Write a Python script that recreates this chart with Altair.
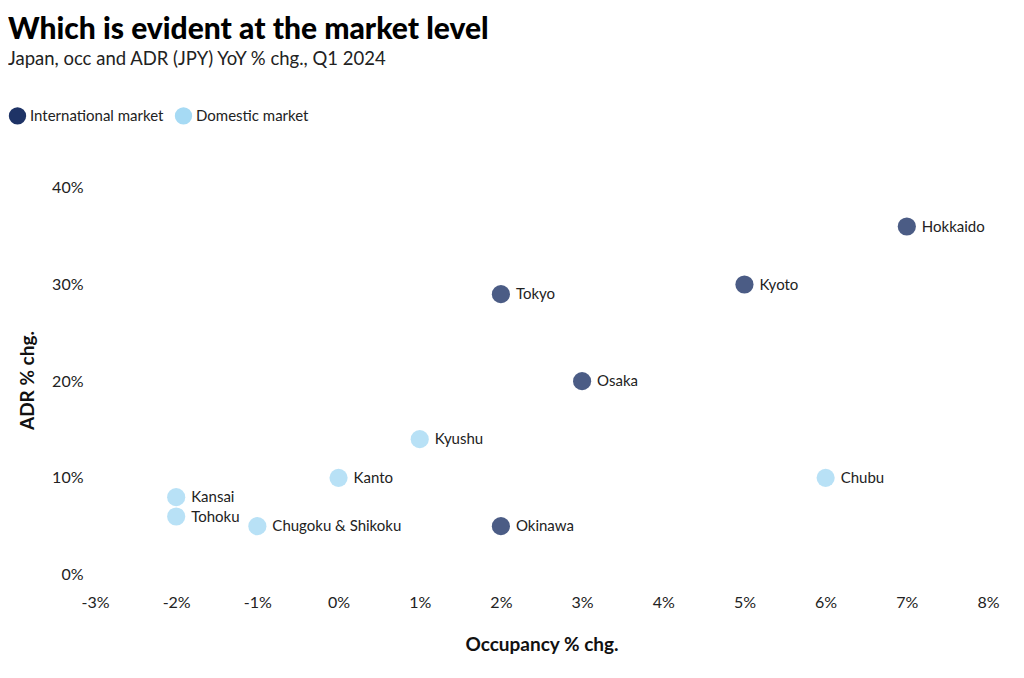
import altair as alt
import pandas as pd

regions = ["Hokkaido", "Kyoto", "Tokyo", "Osaka", "Okinawa",
           "Kyushu", "Kanto", "Chubu", "Kansai", "Tohoku", "Chugoku & Shikoku"]
occ_chg = [7, 5, 2, 3, 2, 1, 0, 6, -2, -2, -1]
adr_chg = [36, 30, 29, 20, 5, 14, 10, 10, 8, 6, 5]
market = ["International market"] * 5 + ["Domestic market"] * 6

markets = ["International market", "Domestic market"]
colors = ["#1e3366", "#a6daf4"]

df = pd.DataFrame({"region": regions, "occ": [v / 100 for v in occ_chg],
                   "adr": [v / 100 for v in adr_chg], "market": market})

FONT = "Lato"
LABEL_EXPR = "(datum.value < 0 ? '-' : '') + format(abs(datum.value), '.0%')"

base = alt.Chart(df).encode(
    x=alt.X("occ:Q", title="Occupancy % chg.",
            scale=alt.Scale(domain=[-0.03, 0.08], nice=False, zero=False),
            axis=alt.Axis(labelExpr=LABEL_EXPR, values=[v / 100 for v in range(-3, 9)],
                          grid=False, domain=False, ticks=False, labelFlush=False,
                          labelPadding=5, titlePadding=25)),
    y=alt.Y("adr:Q", title="ADR % chg.",
            scale=alt.Scale(domain=[-0.015, 0.435], nice=False, zero=False),
            axis=alt.Axis(format=".0%", values=[0, 0.1, 0.2, 0.3, 0.4],
                          grid=False, domain=False, ticks=False, labelFlush=False,
                          labelPadding=12, titlePadding=14, titleY=226)),
)

points = base.mark_circle(size=330, opacity=0.8).encode(
    color=alt.Color("market:N", scale=alt.Scale(domain=markets, range=colors),
                    legend=alt.Legend(title=None, orient="none", direction="horizontal",
                                      legendX=-87, legendY=-48,
                                      symbolType="circle", symbolSize=300,
                                      symbolOpacity=1, labelFontSize=15,
                                      labelFont=FONT, labelColor="#222",
                                      columnPadding=10, labelOffset=3))
)

labels = base.mark_text(align="left", baseline="middle", dx=15, fontSize=15,
                        font=FONT, color="#222").encode(text="region:N")

chart = (points + labels).properties(
    width=893, height=435,
    autosize=alt.AutoSizeParams(type="none"),
    padding={"left": 87, "top": 146, "right": 26, "bottom": 76},
    title=alt.TitleParams(
        text="Which is evident at the market level",
        subtitle="Japan, occ and ADR (JPY) YoY % chg., Q1 2024",
        anchor="start", frame="group", dx=-87, offset=38,
        font=FONT, fontSize=30, fontWeight=900, color="#000",
        subtitleFont=FONT, subtitleFontSize=18.5, subtitleColor="#222",
        subtitlePadding=5,
    ),
).configure_view(stroke=None).configure_axis(
    labelFont=FONT, labelFontSize=16, labelColor="#222",
    titleFont=FONT, titleFontSize=19, titleFontWeight="bold", titleColor="#111",
)

chart.save("out.html", embed_options={"renderer": "svg", "actions": False})
